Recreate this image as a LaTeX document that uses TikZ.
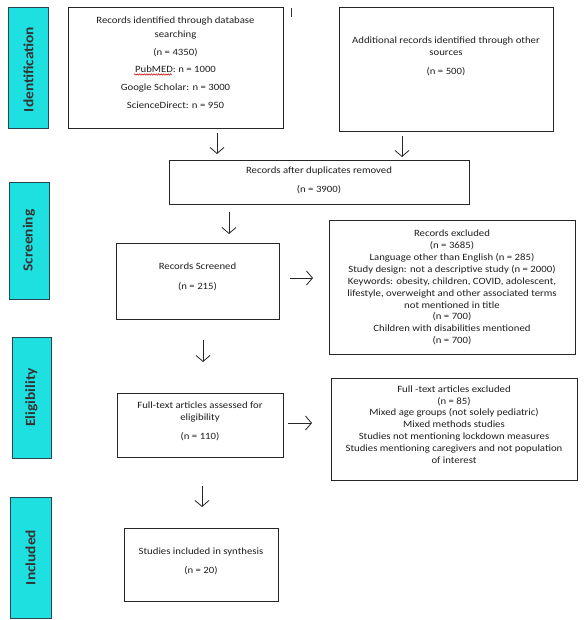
\documentclass[tikz,border=0pt]{standalone}
\usepackage{fontspec}
\setmainfont{Carlito}
\usetikzlibrary{arrows.meta,decorations.pathmorphing}
\definecolor{sidecyan}{RGB}{30,224,224}
\definecolor{sideedge}{RGB}{40,70,80}
\tikzset{
  box/.style={draw=black!85, line width=0.7pt, fill=white, inner sep=0pt},
  boxtext/.style={align=center, inner sep=0pt, text=black!88,
    font=\addfontfeature{FakeStretch=1.12}\fontsize{9.6}{11.9}\selectfont},
  side/.style={draw=sideedge, line width=0.8pt, fill=sidecyan},
  sidelabel/.style={rotate=90, text=black!80,
    font=\addfontfeature{FakeStretch=1.1}\fontsize{14}{16}\selectfont\bfseries},
  flow/.style={line width=0.8pt, black!85, -{Straight Barb[length=6pt,width=14pt,line width=0.8pt]}},
  spell/.style={draw=red!80!black, line width=0.5pt, decorate,
    decoration={snake, segment length=2.4pt, amplitude=0.7pt}},
}
\begin{document}
\begin{tikzpicture}[x=1pt,y=-1pt]
\useasboundingbox (0,0) rectangle (584,620);
\fill[white] (0,0) rectangle (584,620);

% side stage labels
\node[side, minimum width=40pt, minimum height=121pt] (sid) at (28.5,67.5) {};
\node[sidelabel] (sidt) at (28.5,69.5) {Identification};
\node[side, minimum width=40pt, minimum height=117pt] (ssc) at (29,240.5) {};
\node[sidelabel] (ssct) at (ssc.center) {Screening};
\node[side, minimum width=39pt, minimum height=121pt] (sel) at (31.5,397.5) {};
\node[sidelabel] (selt) at (sel.center) {Eligibility};
\node[side, minimum width=41pt, minimum height=121pt] (sin) at (30.5,557.5) {};
\node[sidelabel] (sint) at (sin.center) {Included};

% boxes
\node[box, minimum width=215pt, minimum height=121pt] (db) at (175.5,67.5) {};
\node[boxtext] (dbt) at (175.5,63)
  {Records identified through database\\[1.5pt]searching\\[6pt](n = 4350)\\[6pt]PubMED: n = 1000\\[6pt]Google Scholar: n = 3000\\[6pt]ScienceDirect: n = 950};
\node[box, minimum width=214pt, minimum height=124pt] (add) at (446,69) {};
\node[boxtext] (addt) at (446,56)
  {Additional records identified through other\\sources\\[7pt](n = 500)};
\node[box, minimum width=300pt, minimum height=44pt] (dup) at (319,182) {};
\node[boxtext] (dupt) at (319,180.5) {Records after duplicates removed\\[7pt](n = 3900)};
\node[box, minimum width=163pt, minimum height=76pt] (scr) at (197.5,281) {};
\node[boxtext] (scrt) at (197.5,277) {Records Screened\\[8pt](n = 215)};
\node[box, minimum width=246pt, minimum height=134pt] (exc) at (452,287) {};
\node[boxtext] (exct) at (452,287.5)
  {Records excluded\\(n = 3685)\\Language other than English (n = 285)\\Study design: not a descriptive study (n = 2000)\\Keywords: obesity, children, COVID, adolescent,\\lifestyle, overweight and other associated terms\\not mentioned in title\\(n = 700)\\Children with disabilities mentioned\\(n = 700)};
\node[box, minimum width=166pt, minimum height=64pt] (ft) at (200,425) {};
\node[boxtext] (ftt) at (200,421.5) {Full-text articles assessed for\\eligibility\\[7pt](n = 110)};
\node[box, minimum width=246pt, minimum height=102pt] (fex) at (454,429) {};
\node[boxtext] (fext) at (454,424.5)
  {Full -text articles excluded\\(n = 85)\\Mixed age groups (not solely pediatric)\\Mixed methods studies\\Studies not mentioning lockdown measures\\Studies mentioning caregivers and not population\\of interest};
\node[box, minimum width=154pt, minimum height=73pt] (inc) at (201,564.5) {};
\node[boxtext] (inct) at (201,561.5) {Studies included in synthesis\\[7pt](n = 20)};

% spell-check underline under "PubMED:"
\coordinate (u1) at (134,74.5); \coordinate (u2) at (172,74.5);
\draw[spell] (u1) -- (u2);

% floating arrows
\coordinate (a1s) at (217,133); \coordinate (a1e) at (217,154);
\coordinate (a2s) at (402,136); \coordinate (a2e) at (402,157);
\coordinate (a3s) at (229,212); \coordinate (a3e) at (229,234);
\coordinate (a4s) at (290,278); \coordinate (a4e) at (313,278);
\coordinate (a5s) at (203,340); \coordinate (a5e) at (203,362);
\coordinate (a6s) at (288,423); \coordinate (a6e) at (312,423);
\coordinate (a7s) at (202,486); \coordinate (a7e) at (202,507);
\draw[flow] (a1s) -- (a1e);
\draw[flow] (a2s) -- (a2e);
\draw[flow] (a3s) -- (a3e);
\draw[flow] (a4s) -- (a4e);
\draw[flow] (a5s) -- (a5e);
\draw[flow] (a6s) -- (a6e);
\draw[flow] (a7s) -- (a7e);

% stray cursor mark
\coordinate (m1) at (291,8); \coordinate (m2) at (291,17);
\draw[line width=0.8pt, black!80] (m1) -- (m2);
\end{tikzpicture}
\end{document}
